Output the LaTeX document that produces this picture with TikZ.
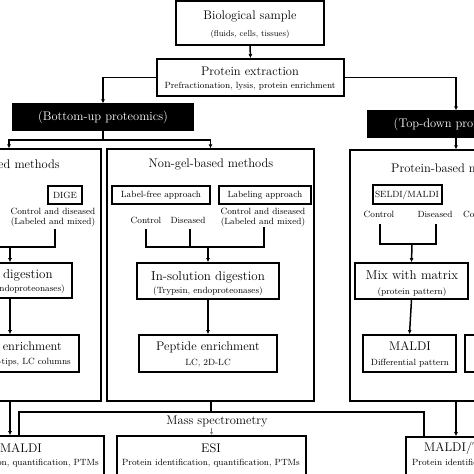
\documentclass[tikz,border=0pt]{standalone}
\usetikzlibrary{arrows.meta,fit}
\newcommand\myBig{\fontsize{12.5}{14}\selectfont}
\newcommand\myMid{\fontsize{13}{15}\selectfont}
\newcommand\mySmall{\fontsize{9}{10}\selectfont}
\newcommand\myTiny{\fontsize{8.5}{10}\selectfont}
\begin{document}
\begin{tikzpicture}[x=1pt,y=-1pt,
  box/.style={draw, line width=1.6pt, inner sep=0pt},
  blackbox/.style={draw, fill=black, line width=1.2pt, inner sep=0pt},
  cont/.style={draw, line width=1.3pt, inner sep=0pt},
  lbl/.style={inner sep=0pt, font=\mySmall},
  ttl/.style={inner sep=0pt, font=\myBig},
  con/.style={line width=1.5pt},
  arr/.style={line width=1.5pt, -{Latex[length=4pt,width=4pt]}}]
\useasboundingbox (0,0) rectangle (474,474);
\clip (0,0) rectangle (474,474);
\fill[white] (0,0) rectangle (474,474);
% boxes
\node[box, fit={(176,1) (324,45)}] (bio) {};
\node[box, fit={(157,59) (344,96)}] (pe) {};
\node[blackbox, fit={(13,104) (193,130)}] (bu) {};
\node[blackbox, fit={(368,111) (544,137)}] (td) {};
\node[cont, fit={(-83,149) (101,401)}] (gel) {};
\node[cont, fit={(107,149) (314,401)}] (ngel) {};
\node[cont, fit={(350,150) (562,401)}] (prot) {};
\node[box, fit={(48,186) (82,204)}] (dige) {};
\node[box, fit={(112,186) (210,204)}] (lf) {};
\node[box, fit={(219,186) (311,204)}] (lab) {};
\node[box, fit={(373,185) (442,204)}] (seldi) {};
\node[box, fit={(-52,263) (72,298)}] (ingel) {};
\node[box, fit={(137,263) (279,299)}] (insol) {};
\node[box, fit={(355,263) (468,299)}] (mix) {};
\node[box, fit={(-59,335) (79,372)}] (pepL) {};
\node[box, fit={(139,335) (277,372)}] (pepM) {};
\node[box, fit={(363,335) (456,372)}] (maldiR) {};
\node[box, fit={(465,335) (560,372)}] (boxR) {};
\node[box, fit={(-86,436) (104,500)}] (msL) {};
\node[box, fit={(117,436) (306,500)}] (esi) {};
\node[box, fit={(406,437) (600,500)}] (msR) {};
% texts
\node[ttl] (t1) at (250,16) {Biological sample};
\node[inner sep=0pt, font=\myTiny] (t2) at (250,34) {(fluids, cells, tissues)};
\node[ttl] (t3) at (250,71) {Protein extraction};
\node[lbl] (t4) at (250,86) {Prefractionation, lysis, protein enrichment};
\node[ttl, text=white] (t5) at (103,117) {(Bottom-up proteomics)};
\node[ttl, text=white] (t6) at (456,124) {(Top-down proteomics)};
\node[ttl, anchor=east] (t7) at (60,164) {Gel-based methods};
\node[ttl] (t8) at (211,164) {Non-gel-based methods};
\node[ttl, anchor=west] (t9) at (391,168) {Protein-based methods};
\node[lbl] (t10) at (65,195) {DIGE};
\node[lbl] (t11) at (53,211) {Control and diseased};
\node[lbl] (t12) at (53,222) {(Labeled and mixed)};
\node[lbl] (t13) at (161,195) {Label-free approach};
\node[lbl] (t14) at (265,195) {Labeling approach};
\node[lbl] (t15) at (263,211) {Control and diseased};
\node[lbl] (t16) at (263,222) {(Labeled and mixed)};
\node[lbl] (t17) at (146,220) {Control};
\node[lbl] (t18) at (188,220) {Diseased};
\node[lbl] (t19) at (407,195) {SELDI/MALDI};
\node[lbl] (t20) at (379,214) {Control};
\node[lbl] (t21) at (435,214) {Diseased};
\node[lbl, anchor=west] (t22) at (463,214) {Control and diseased};
\node[inner sep=0pt, font=\myMid] (t23) at (10,275) {In-gel digestion};
\node[lbl] (t24) at (10,289) {(Trypsin, endoproteonases)};
\node[inner sep=0pt, font=\myMid] (t25) at (208,277) {In-solution digestion};
\node[lbl] (t26) at (208,291) {(Trypsin, endoproteonases)};
\node[ttl] (t27) at (10,347) {Peptide enrichment};
\node[lbl, anchor=east] (t28) at (71,362) {Zip-tips, LC columns};
\node[ttl] (t29) at (208,347) {Peptide enrichment};
\node[lbl] (t30) at (208,363) {LC, 2D-LC};
\node[inner sep=0pt, font=\myMid] (t31) at (412,275) {Mix with matrix};
\node[lbl] (t32) at (412,292) {(protein pattern)};
\node[ttl] (t33) at (410,346) {MALDI};
\node[lbl] (t34) at (410,363) {Differential pattern};
\node[ttl] (t35) at (217,422) {Mass spectrometry};
\node[ttl, anchor=east] (t36) at (42,448) {MALDI};
\node[lbl, anchor=east] (t37) at (99,463) {Protein identification, quantification, PTMs};
\node[ttl] (t38) at (211,448) {ESI};
\node[lbl] (t39) at (211,463) {Protein identification, quantification, PTMs};
\node[ttl, anchor=west] (t40) at (424,448) {MALDI/TOF};
\node[lbl, anchor=west] (t41) at (412,463) {Protein identification, quantification, PTMs};
% coordinates
\coordinate (buS) at (103,140);
\coordinate (gJ) at (55,247);
\coordinate (gL) at (-40,247);
\coordinate (gA) at (10,247);
\coordinate (nA) at (146,229);
\coordinate (nB) at (190,229);
\coordinate (nC) at (264,227);
\coordinate (nJ) at (208,247);
\coordinate (pA) at (380,224);
\coordinate (pB) at (436,224);
\coordinate (pJ) at (412,244);
\coordinate (msTop) at (211,412);
\coordinate (msL1) at (19,412);
\coordinate (msR1) at (424,412);
% connectors
\draw[arr] (bio.south) -- (pe.north);
\draw[arr] (pe.west) -| (bu.north);
\draw[arr] (pe.east) -| (td.north);
\draw[con] (bu.south) -- (buS);
\draw[arr] (buS) -| (gel.north);
\draw[arr] (buS) -| (ngel.north);
\draw[arr] (td.south) -- (prot.north);
\draw[con] (55,229) |- (gL);
\draw[arr] (gA) -- (ingel.north);
\draw[arr] (ingel.south) -- (pepL.north);
\draw[con] (nA) |- (nJ) -| (nC);
\draw[con] (nB) -- (nB |- nJ);
\draw[arr] (nJ) -- (insol.north);
\draw[arr] (insol.south) -- (pepM.north);
\draw[con] (pA) |- (pJ) -| (pB);
\draw[arr] (pJ) -- (mix.north);
\draw[arr] (mix.south) -- (maldiR.north);
\draw[arr] (gel.south -| gA) -- (gA |- msL.north);
\draw[con] (ngel.south -| msTop) -- (msTop);
\draw[con] (msL1 |- msL.north) -- (msL1) -- (msR1) -- (msR1 |- msR.north);
\draw[line width=0.6pt, -{Latex[length=3pt,width=3pt]}, gray] (t35.south -| esi.north) -- (esi.north);
\draw[arr] (prot.south -| td.north) -- (td.north |- msR.north);
\end{tikzpicture}
\end{document}
